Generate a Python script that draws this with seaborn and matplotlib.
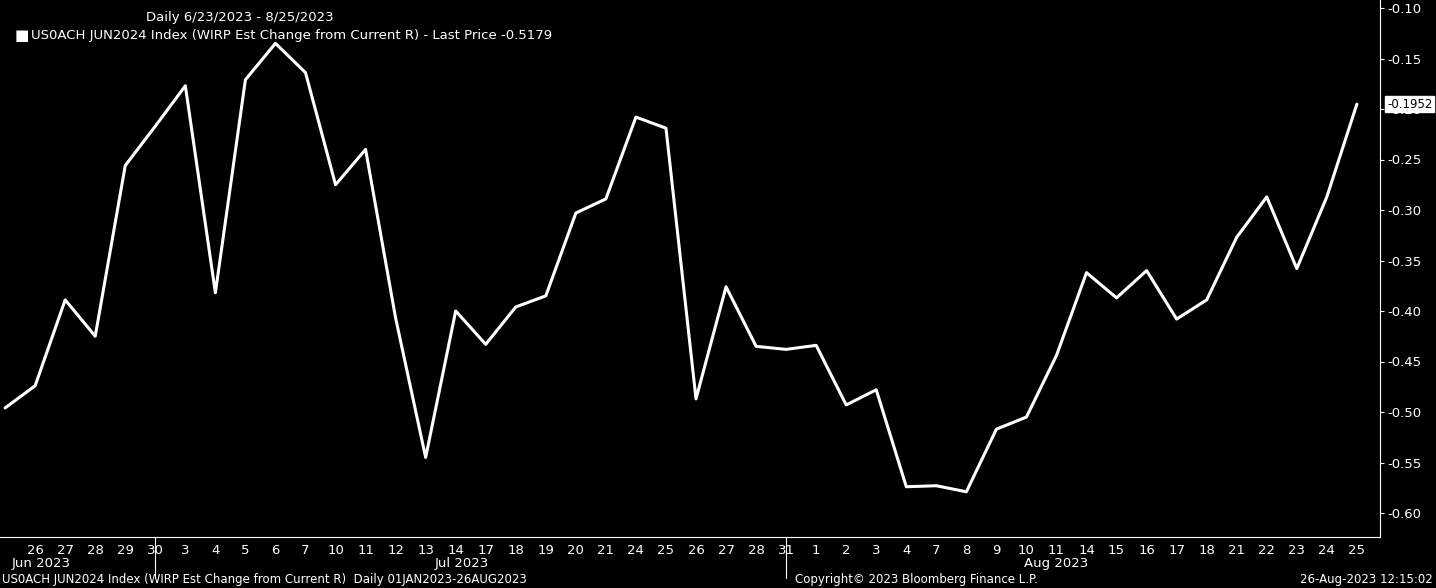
import matplotlib
matplotlib.use("Agg")
import matplotlib.pyplot as plt
import seaborn as sns
import pandas as pd

day_labels = ["23","26","27","28","29","30","3","4","5","6","7","10","11","12","13","14","17","18","19","20","21",
              "24","25","26","27","28","31","1","2","3","4","7","8","9","10","11","14","15","16","17","18",
              "21","22","23","24","25"]
values = [-0.496,-0.474,-0.389,-0.425,-0.256,-0.217,-0.177,-0.382,-0.171,-0.135,-0.164,-0.275,-0.240,-0.407,
          -0.545,-0.400,-0.433,-0.396,-0.385,-0.303,-0.289,-0.208,-0.219,-0.487,-0.376,-0.435,-0.438,-0.434,
          -0.493,-0.478,-0.574,-0.573,-0.579,-0.517,-0.505,-0.444,-0.362,-0.387,-0.360,-0.408,-0.389,-0.327,
          -0.287,-0.358,-0.287,-0.1952]
month_labels = ["Jun 2023", "Jul 2023", "Aug 2023"]
y_ticks = [-0.10,-0.15,-0.20,-0.25,-0.30,-0.35,-0.40,-0.45,-0.50,-0.55,-0.60]

df = pd.DataFrame({"i": range(len(values)), "v": values})
sns.set_style("dark")
fig = plt.figure(figsize=(14.36, 5.88), dpi=100, facecolor="black")
ax = fig.add_axes([0, 51/588, 1380/1436, 537/588], facecolor="black")
sns.lineplot(data=df, x="i", y="v", ax=ax, color="white", linewidth=2.2)
ax.set_xlim(-0.17, 45.77)
ax.set_ylim(-0.1 - 529/1010, -0.1 + 8/1010)
ax.grid(False)
ax.yaxis.tick_right()
ax.set_yticks(y_ticks)
ax.set_yticklabels([f"{t:.2f}" for t in y_ticks], color="white", fontsize=9.5)
ax.set_xticks(range(1, len(values)))
ax.set_xticklabels(day_labels[1:], color="white", fontsize=9.5)
ax.tick_params(axis="both", colors="white", length=3, pad=2)
ax.set_xlabel(""); ax.set_ylabel("")
for s in ["top", "left"]:
    ax.spines[s].set_visible(False)
ax.spines["right"].set_color("white"); ax.spines["bottom"].set_color("white")
for x, lab in [(1.2, month_labels[0]), (15.2, month_labels[1]), (35, month_labels[2])]:
    ax.text(x, -0.1 - 555/1010, lab, color="white", fontsize=9.5, ha="center", va="center", clip_on=False)
for x in [5, 26]:
    ax.plot([x, x], [-0.1 - 529/1010, -0.1 - 570/1010], color="white", lw=0.8, clip_on=False)
ax.text(46.0, values[-1], f"{values[-1]:.4f}", color="black", fontsize=8.5, va="center", ha="left",
        bbox=dict(boxstyle="square,pad=0.15", fc="white", ec="white"), clip_on=False)
fig.text(146/1436, 1 - 18/588, "Daily 6/23/2023 - 8/25/2023", color="white", fontsize=9.5, va="center")
fig.text(15/1436, 1 - 36/588, "■", color="white", fontsize=11, va="center")
fig.text(31/1436, 1 - 36/588, "US0ACH JUN2024 Index (WIRP Est Change from Current R) - Last Price -0.5179",
         color="white", fontsize=9.5, va="center")
fig.text(2/1436, 1 - 579/588, "US0ACH JUN2024 Index (WIRP Est Change from Current R)  Daily 01JAN2023-26AUG2023",
         color="white", fontsize=8.5, va="center")
fig.text(795/1436, 1 - 579/588, "Copyright© 2023 Bloomberg Finance L.P.", color="white", fontsize=8.5, va="center")
fig.text(1433/1436, 1 - 579/588, "26-Aug-2023 12:15:02", color="white", fontsize=8.5, va="center", ha="right")
fig.savefig("out.png", dpi=100, facecolor="black")
